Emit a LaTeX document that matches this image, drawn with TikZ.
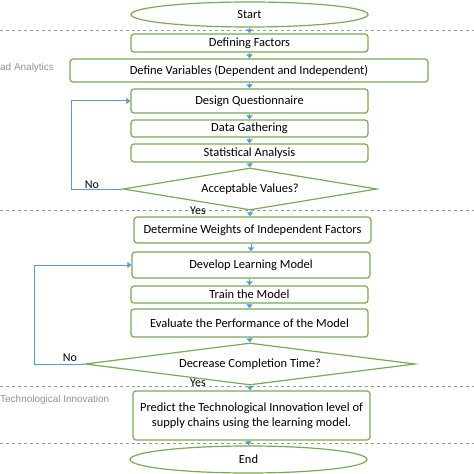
\documentclass[tikz,border=0pt]{standalone}
\usepackage{fontspec}
\setmainfont{Carlito}
\newfontfamily\sidefont{Liberation Sans}
\usetikzlibrary{shapes.geometric,arrows.meta}
\definecolor{boxgreen}{HTML}{77AC52}
\definecolor{arrblue}{HTML}{5B9BD5}
\definecolor{dashgray}{HTML}{9A9A9A}
\begin{document}
\begin{tikzpicture}[x=1bp,y=-1bp,
  every node/.style={font=\fontsize{12.5}{15}\selectfont, text=black, inner sep=0pt},
  procbox/.style={draw=boxgreen, line width=1.2pt, rounded corners=3pt, fill=white, align=center},
  term/.style={ellipse, draw=boxgreen, line width=1.2pt, fill=white},
  decide/.style={diamond, draw=boxgreen, line width=1.2pt, fill=white},
  flow/.style={draw=arrblue, line width=1pt, -{Triangle[length=4bp,width=6bp]}},
  sep/.style={draw=dashgray, dashed, line width=0.6pt},
  sidelabel/.style={font=\sidefont\fontsize{10}{12}\selectfont, text=gray!85, anchor=west},
  answer/.style={font=\fontsize{12}{14}\selectfont}
]
\useasboundingbox (0,0) rectangle (474,474);
\fill[white] (0,0) rectangle (474,474);

% separators
\coordinate (s1l) at (0,30);   \coordinate (s1r) at (474,30);
\coordinate (s2l) at (0,210);  \coordinate (s2r) at (474,210);
\coordinate (s3l) at (0,386);  \coordinate (s3r) at (474,386);
\coordinate (s4l) at (0,443);  \coordinate (s4r) at (474,443);
\draw[sep] (s1l) -- (s1r);
\draw[sep] (s2l) -- (s2r);
\draw[sep] (s3l) -- (s3r);
\draw[sep] (s4l) -- (s4r);

\node[sidelabel] (lab1) at (0,68) {ad Analytics};
\node[sidelabel] (lab2) at (0,400) {Technological Innovation};

\node[term, minimum width=237bp, minimum height=25bp] (start) at (249.5,14.5) {Start};
\node[procbox, minimum width=237bp, minimum height=18bp] (f1) at (249.5,43) {Defining Factors};
\node[procbox, minimum width=358bp, minimum height=23bp] (f2) at (249,70.5) {Define Variables (Dependent and Independent)};
\node[procbox, minimum width=237bp, minimum height=24bp] (f3) at (249.5,101) {Design Questionnaire};
\node[procbox, minimum width=237bp, minimum height=17bp] (f4) at (249.5,128.5) {Data Gathering};
\node[procbox, minimum width=237bp, minimum height=18bp] (f5) at (249.5,153) {Statistical Analysis};
\node[decide, shape aspect=6.05, minimum width=254bp, minimum height=42bp] (d1) at (250,189) {Acceptable Values?};
\node[procbox, minimum width=237bp, minimum height=26bp] (f6) at (252.5,230) {Determine Weights of Independent Factors};
\node[procbox, minimum width=238bp, minimum height=26bp] (f7) at (251,265) {Develop Learning Model};
\node[procbox, minimum width=237bp, minimum height=17bp] (f8) at (249.5,294.5) {Train the Model};
\node[procbox, minimum width=237bp, minimum height=28bp] (f9) at (249.5,323) {Evaluate the Performance of the Model};
\node[decide, shape aspect=7.86, minimum width=330bp, minimum height=42bp] (d2) at (250,364) {Decrease Completion Time?};
\node[procbox, minimum width=237bp, minimum height=49bp] (f10) at (251.5,415.5) {Predict the Technological Innovation level of\\supply chains using the learning model.};
\node[term, minimum width=237bp, minimum height=27bp] (end) at (248.5,459.5) {End};

% main flow
\draw[flow] (start.south) -- (f1.north);
\draw[flow] (f1.south) -- (f2.north -| f1.south);
\draw[flow] (f2.south -| f3.north) -- (f3.north);
\draw[flow] (f3.south) -- (f4.north);
\draw[flow] (f4.south) -- (f5.north);
\draw[flow] (f5.south) -- (d1.north);
\draw[flow] (d1.south) -- (f6.north -| d1.south);
\draw[flow] (f6.south -| f7.north) -- (f7.north);
\draw[flow] (f7.south -| f8.north) -- (f8.north);
\draw[flow] (f8.south) -- (f9.north);
\draw[flow] (f9.south) -- (d2.north);
\draw[flow] (d2.south) -- (f10.north -| d2.south);
\draw[flow] (f10.south -| end.north) -- (end.north);

% feedback loops
\coordinate (c1) at (71,189);
\coordinate (c2) at (34,364);
\draw[flow] (d1.west) -- (c1) |- (f3.west);
\draw[flow] (d2.west) -- (c2) |- (f7.west);

\node[answer] (no1) at (92,185) {No};
\node[answer] (yes1) at (198,211) {Yes};
\node[answer] (no2) at (70,358) {No};
\node[answer] (yes2) at (198,383) {Yes};
\end{tikzpicture}
\end{document}
